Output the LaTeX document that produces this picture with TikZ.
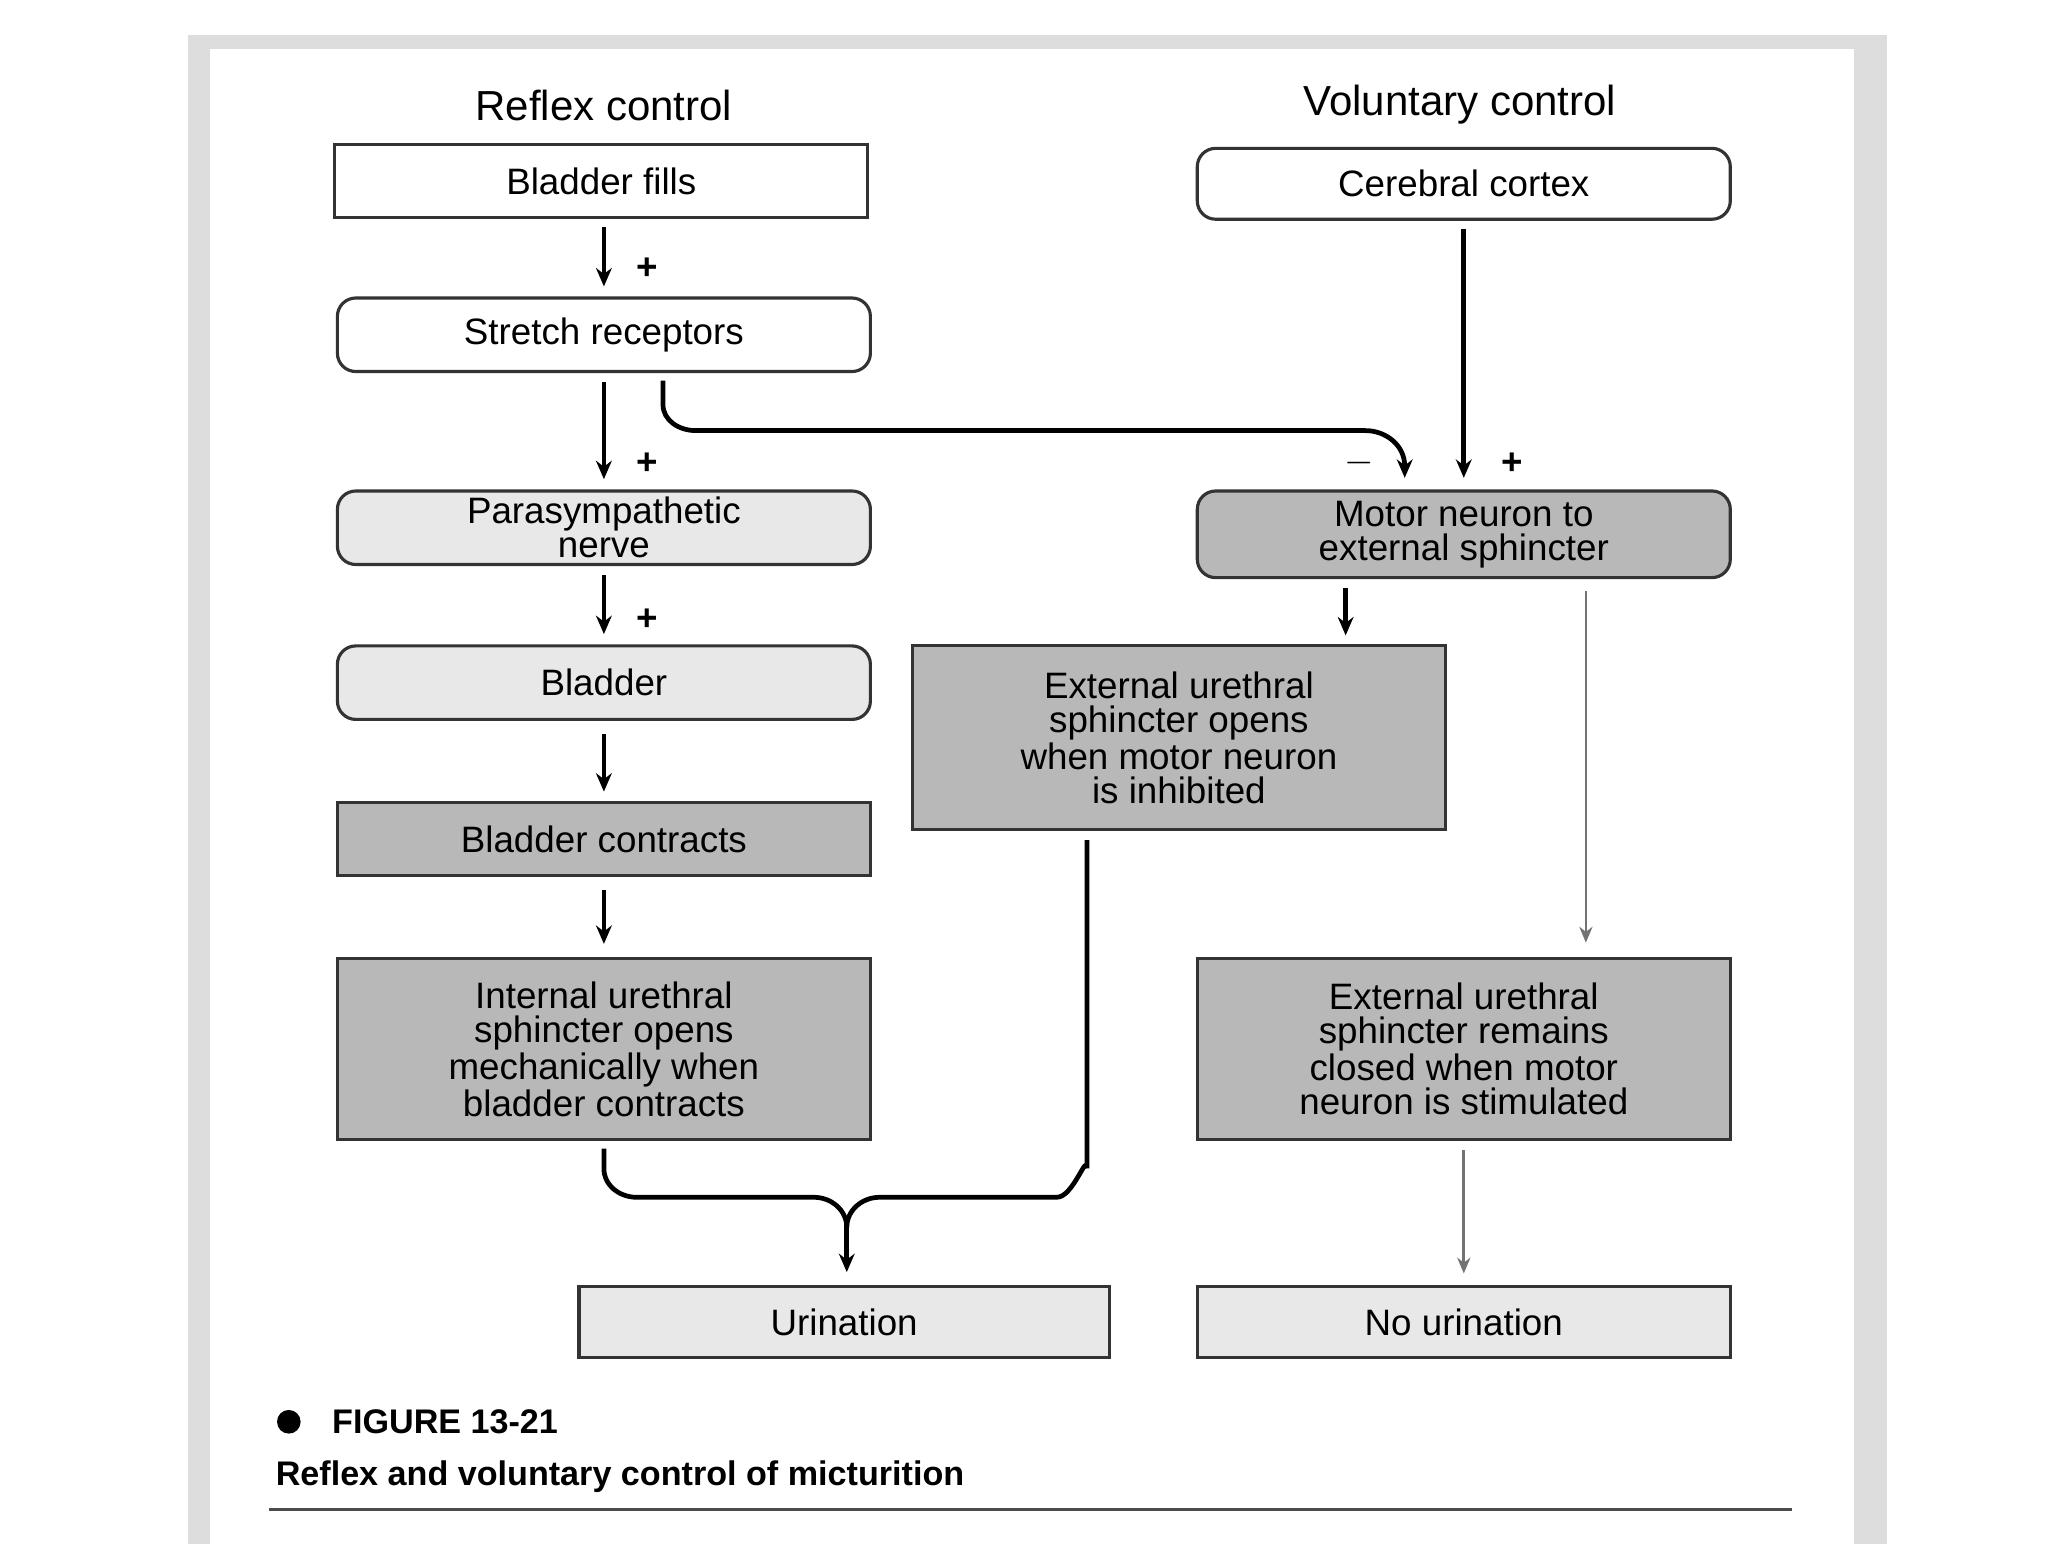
\documentclass[tikz,border=0pt]{standalone}
\usepackage{fontspec}
\setmainfont{Liberation Sans}
\usetikzlibrary{arrows.meta}
\definecolor{lg}{HTML}{E8E8E8}
\definecolor{mg}{HTML}{B8B8B8}
\definecolor{fr}{HTML}{DDDDDD}
\begin{document}
\begin{tikzpicture}[x=0.5pt,y=-0.5pt,
 bx/.style={draw=black!80,line width=1.2pt,inner sep=0pt,align=center,font=\fontsize{14}{13}\selectfont},
 rbx/.style={bx,rounded corners=7pt},
 ar/.style={line width=1.8pt,-{Stealth[length=7pt,width=6pt]}},
 thin/.style={line width=1pt,draw=black!55,-{Stealth[length=6pt,width=5pt]}},
 sg/.style={font=\bfseries\fontsize{14}{14}\selectfont}]
\useasboundingbox (0,0) rectangle (1560,1176);
\fill[fr] (143,27) rectangle (1437,1176);
\fill[white] (160,37) rectangle (1412,1176);
\node[font=\fontsize{16}{16}\selectfont] (t1) at (460,80) {Reflex control};
\node[font=\fontsize{16}{16}\selectfont] (t2) at (1112,80) {Voluntary control};
\newcommand{\bb}[6]{\node[#1,fill=#2,minimum width=#4*0.5pt,minimum height=#5*0.5pt] (#3) at #6 {};}
\node[bx,fill=white,minimum width=203pt,minimum height=28pt] (bf) at (458,138) {Bladder fills};
\node[rbx,fill=white,minimum width=203pt,minimum height=27pt] (cc) at (1115,140) {Cerebral cortex};
\node[rbx,fill=white,minimum width=203pt,minimum height=28pt] (sr) at (460,255) {Stretch receptors};
\node[rbx,fill=lg,minimum width=203pt,minimum height=28pt] (pn) at (460,402) {Parasympathetic\\nerve};
\node[rbx,fill=mg,minimum width=203pt,minimum height=33pt] (mn) at (1115,407) {Motor neuron to\\external sphincter};
\node[rbx,fill=lg,minimum width=203pt,minimum height=28pt] (bl) at (460,520) {Bladder};
\node[bx,fill=mg,minimum width=203pt,minimum height=70pt] (eo) at (898,562) {External urethral\\sphincter opens\\when motor neuron\\is inhibited};
\node[bx,fill=mg,minimum width=203pt,minimum height=28pt] (bc) at (460,639) {Bladder contracts};
\node[bx,fill=mg,minimum width=203pt,minimum height=69pt] (iu) at (460,799) {Internal urethral\\sphincter opens\\mechanically when\\bladder contracts};
\node[bx,fill=mg,minimum width=203pt,minimum height=69pt] (er) at (1115,799) {External urethral\\sphincter remains\\closed when motor\\neuron is stimulated};
\node[bx,fill=lg,minimum width=202pt,minimum height=27pt] (ur) at (643,1007) {Urination};
\node[bx,fill=lg,minimum width=203pt,minimum height=27pt] (nu) at (1115,1007) {No urination};
% arrows
\draw[ar] (bf.south -| 460,0) ++(0,6) -- ++(0,45);
\node[sg] (p1) at (493,205) {+};
\draw[ar] (sr.south -| 460,0) ++(0,7) -- (460,365);
\node[sg] (p2) at (493,353) {+};
\draw[line width=1.8pt,-{Stealth[length=7pt,width=6pt]}] (505,290) -- (505,308) to[out=-90,in=180] (530,328) -- (1040,328) to[out=0,in=90] (1070,355) -- (1070,364);
\node[sg] (m1) at (1035,353) {$-$};
\draw[ar] (cc.south -| 1115,0) ++(0,6) -- (1115,364);
\node[sg] (p3) at (1152,353) {+};
\draw[ar] (460,438) -- (460,483);
\node[sg] (p4) at (493,472) {+};
\draw[ar] (bl.south -| 460,0) ++(0,10) -- (460,603);
\draw[ar] (bc.south -| 460,0) ++(0,10) -- (460,719);
\draw[ar] (1025,448) -- (1025,484);
\draw[thin] (1208,450) -- (1208,718);
\draw[thin] (1115,876) -- (1115,970);
\draw[line width=1.8pt] (460,875) -- (460,890) to[out=-90,in=180] (485,912) -- (620,912) to[out=0,in=90] (645,935);
\draw[line width=1.8pt] (828,640) -- (828,890) to[out=90,in=0] (805,912) -- (670,912) to[out=180,in=90] (645,935);
\draw[ar] (645,932) -- (645,969);
% caption
\fill (220,1083) circle (9);
\node[anchor=west,font=\bfseries\fontsize{13}{13}\selectfont] (fig) at (246,1083) {FIGURE 13-21};
\node[anchor=west,font=\bfseries\fontsize{13}{13}\selectfont] (cap) at (203,1125) {Reflex and voluntary control of micturition};
\draw[line width=1pt,black!70] (205,1150) -- (1365,1150);
\end{tikzpicture}
\end{document}
